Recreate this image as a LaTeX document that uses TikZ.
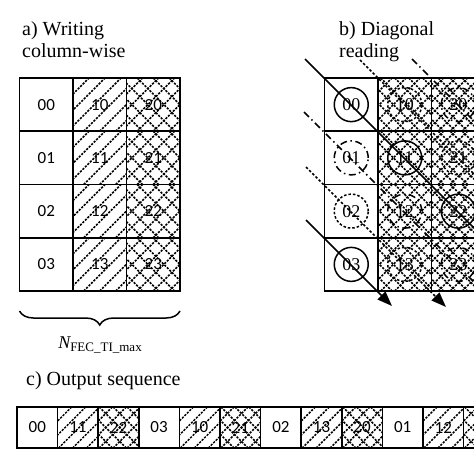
\documentclass[tikz,border=0pt]{standalone}
\usepackage{fontspec}
\setmainfont{Liberation Serif}
\newfontfamily\calfont{Carlito}
\usetikzlibrary{arrows.meta,decorations.pathreplacing}

\newcommand{\hatchNE}[5]{%
  \begin{scope}
    \clip (#1,#2) rectangle ++(#3,#4);
    \foreach \i in {0,...,14}
      \draw[hatchline] ({#1-#4-5+\i*#5},{#2+#4+5}) -- ++({#4+10},{-#4-10});
  \end{scope}}
\newcommand{\hatchSE}[5]{%
  \begin{scope}
    \clip (#1,#2) rectangle ++(#3,#4);
    \foreach \i in {0,...,14}
      \draw[hatchline] ({#1-#4-5+\i*#5},{#2-5}) -- ++({#4+10},{#4+10});
  \end{scope}}
\newcommand{\hatchXX}[5]{\hatchNE{#1}{#2}{#3}{#4}{#5}\hatchSE{#1}{#2}{#3}{#4}{#5}}

\begin{document}
\begin{tikzpicture}[x=1pt,y=-1pt,
  hatchline/.style={line width=1.5pt, dash pattern=on 2.2pt off 1.3pt},
  cellA/.style={draw, line width=1.7pt, minimum width=53.5pt, minimum height=53.25pt,
    inner sep=0pt, font=\calfont\fontsize{17}{17}\selectfont},
  cellB/.style={draw, line width=1.7pt, minimum width=53.5pt, minimum height=53.25pt,
    inner sep=0pt, font=\fontsize{18}{18}\selectfont},
  cellC/.style={draw, line width=1.7pt, minimum width=40.6pt, minimum height=41pt,
    inner sep=0pt, font=\calfont\fontsize{17}{17}\selectfont},
  circ/.style={draw, circle, line width=1.5pt, minimum size=34pt, inner sep=0pt},
  sdash/.style={dash pattern=on 2.5pt off 2pt},
  sdashdot/.style={dash pattern=on 7pt off 3.5pt on 1.5pt off 3.5pt},
  readline/.style={line width=1.6pt},
  title/.style={anchor=base west, inner sep=0pt, font=\fontsize{20}{24}\selectfont},
  tip/.style={-{Triangle[length=15pt,width=11pt]}}
]
\useasboundingbox (0,0) rectangle (474,474);
\clip (0,0) rectangle (474,474);

% ---------- titles
\node[title] (ta1) at (22,35) {a) Writing};
\node[title] (ta2) at (22,57) {column-wise};
\node[title] (tb1) at (339,35) {b) Diagonal};
\node[title] (tb2) at (339,57) {reading};
\node[title] (tc1) at (26,385) {c) Output sequence};

% ---------- a) hatching
\foreach \r in {0,...,3} {
  \hatchNE{73}{78+\r*53.25}{53.5}{53.25}{16}
  \hatchXX{126.5}{78+\r*53.25}{53.5}{53.25}{16}
}
% ---------- b) hatching
\foreach \r in {0,...,3} {
  \hatchXX{378}{78+\r*53.25}{53.5}{53.25}{14}
  \hatchXX{431.5}{78+\r*53.25}{53.5}{53.25}{12}
}
% ---------- c) hatching
\foreach \k in {1,4,7,10} {\hatchNE{17+\k*40.6}{407}{40.6}{41}{14}}
\foreach \k in {2,5,8,11} {\hatchXX{17+\k*40.6}{407}{40.6}{41}{14}}

% ---------- a) cells
\foreach \c in {0,1,2} \foreach \r in {0,...,3}
  \node[cellA] (a\c\r) at ({19.5+26.75+\c*53.5},{78+26.625+\r*53.25}) {\c\r};

% ---------- b) cells
\foreach \c in {0,1,2} \foreach \r in {0,...,3}
  \node[cellB] (b\c\r) at ({324.5+26.75+\c*53.5},{78+26.625+\r*53.25}) {\c\r};

% ---------- b) circles
\node[circ] (o00) at (b00) {};
\node[circ] (o11) at (b11) {};
\node[circ] (o22) at (b22) {};
\node[circ] (o03) at (b03) {};
\node[circ, sdash] (o10) at (b10) {};
\node[circ, sdash] (o21) at (b21) {};
\node[circ, sdash] (o02) at (b02) {};
\node[circ, sdash] (o13) at (b13) {};
\node[circ, sdashdot] (o20) at (b20) {};
\node[circ, sdashdot] (o01) at (b01) {};
\node[circ, sdashdot] (o12) at (b12) {};
\node[circ, sdashdot] (o23) at (b23) {};

% ---------- b) reading lines
\coordinate (r0s) at (305,59);  \coordinate (r0e) at (495,249);
\coordinate (r1s) at (306,220); \coordinate (r1e) at (392,306);
\coordinate (r2s) at (360,60);  \coordinate (r2e) at (495,195);
\coordinate (r3s) at (306,167); \coordinate (r3e) at (446,307);
\coordinate (r4s) at (412,59);  \coordinate (r4e) at (495,142);
\coordinate (r5s) at (304,112); \coordinate (r5e) at (495,303);
\draw[readline] (r0s) -- (r0e);
\draw[readline, tip] (r1s) -- (r1e);
\draw[readline, sdash] (r2s) -- (r2e);
\draw[readline, sdash, tip] (r3s) -- (r3e);
\draw[readline, sdashdot] (r4s) -- (r4e);
\draw[readline, sdashdot] (r5s) -- (r5e);

% ---------- brace
\draw[decorate, decoration={brace, amplitude=14pt, mirror}, line width=1.5pt]
  (19.5,311) -- (180,311);
\node[inner sep=0pt, anchor=base] (nlab) at (100,348)
  {{\fontsize{18}{18}\selectfont\itshape N}\raisebox{-3pt}{\fontsize{13}{13}\selectfont FEC\_TI\_max}};

% ---------- c) cells
\foreach \k/\lab in {0/00,1/11,2/22,3/03,4/10,5/21,6/02,7/13,8/20,9/01,10/12}
  \node[cellC] (c\k) at ({17+20.3+\k*40.6},{427.5}) {\lab};
\node[cellC] (c11) at ({17+20.3+11*40.6},{427.5}) {};
\end{tikzpicture}
\end{document}
